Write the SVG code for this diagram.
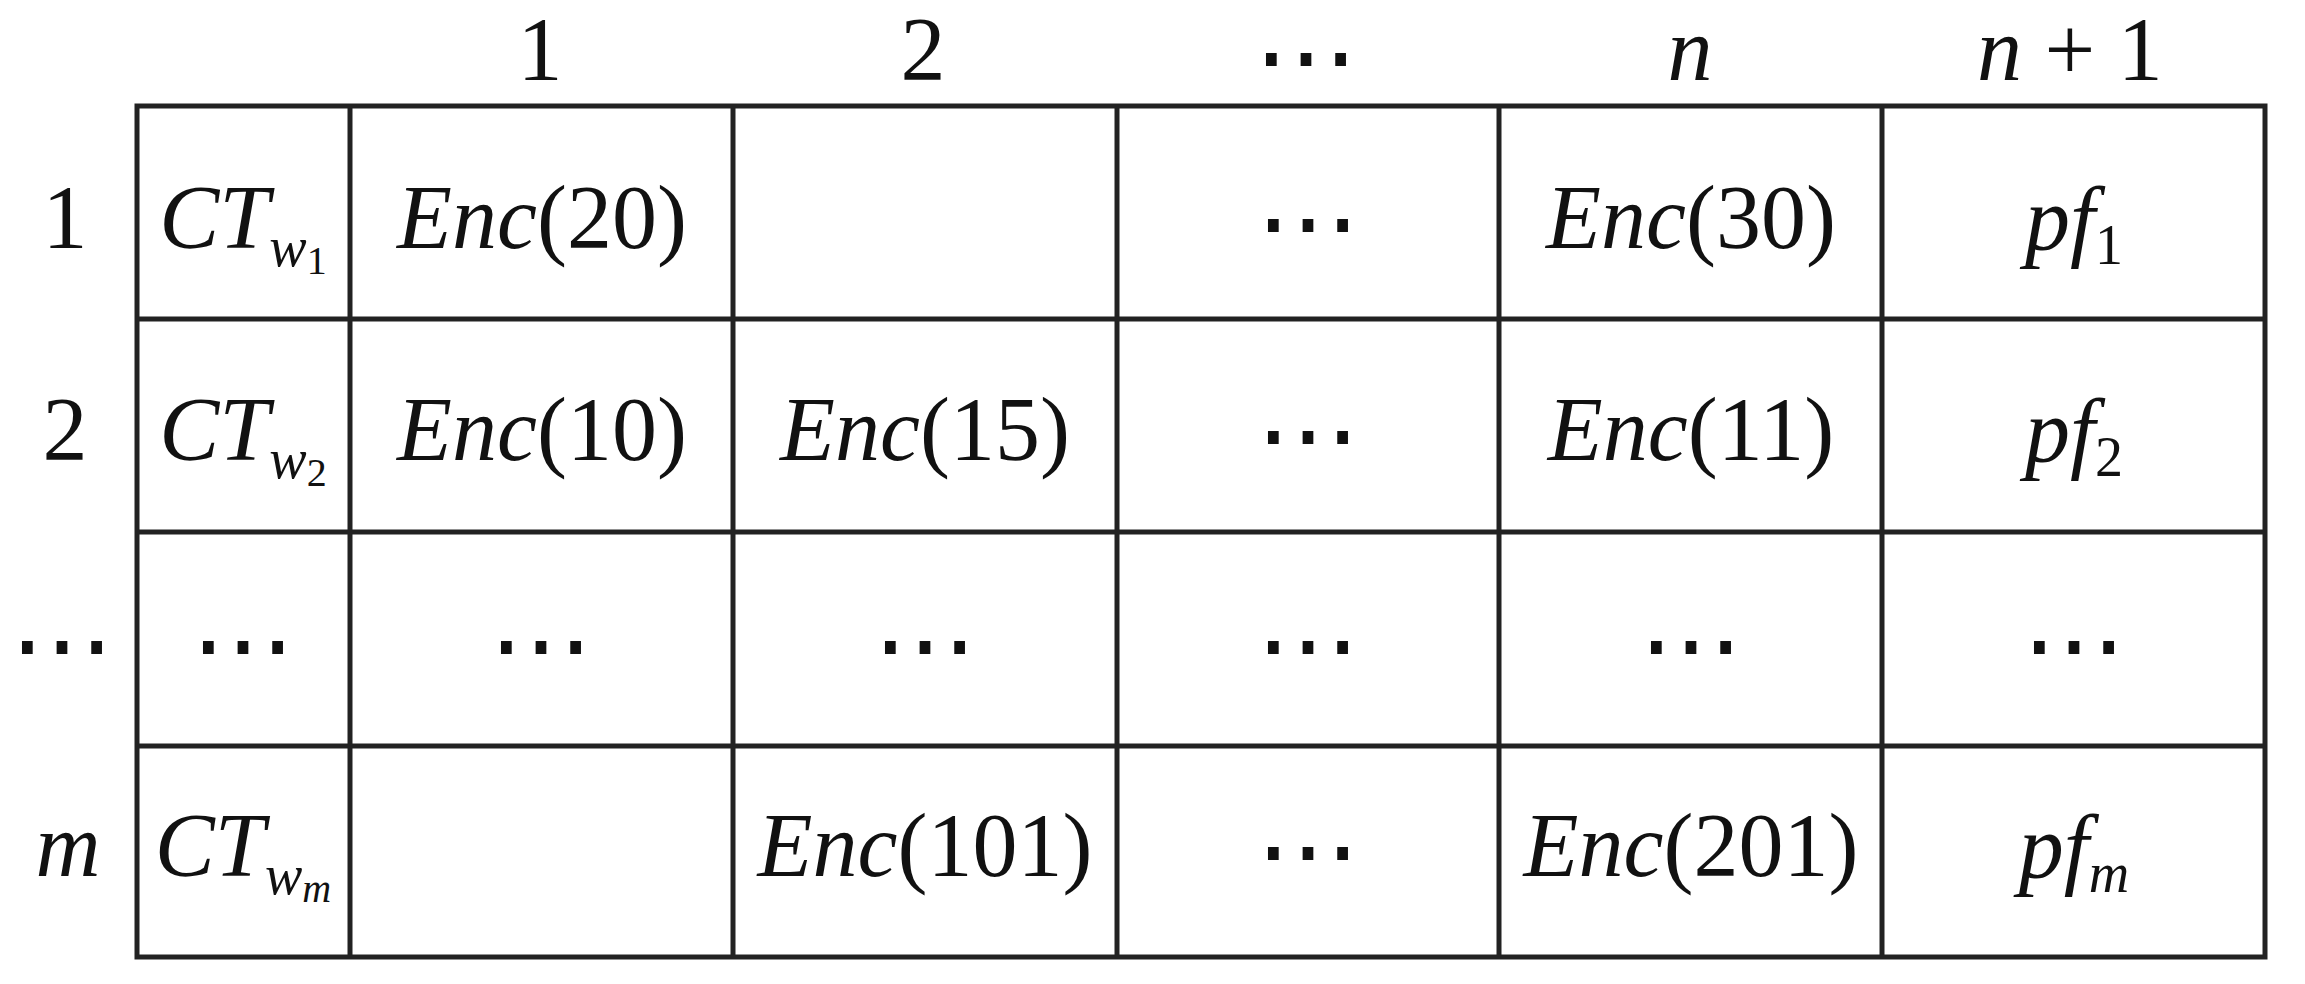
<svg xmlns="http://www.w3.org/2000/svg" width="2305" height="984" viewBox="0 0 2305 984">
<style>
text{font-family:"Liberation Serif","DejaVu Serif",serif;font-size:90px;fill:#111;text-anchor:middle}
.i{font-style:italic}
.s{font-size:56px}
.d{font-family:"DejaVu Serif",serif;font-size:104px}
.g{stroke:#222;stroke-width:5;fill:none}
</style>
<rect width="2305" height="984" fill="#fff"/>
<g id="grid" class="g">
<rect x="137" y="106" width="2128" height="851"/>
<path d="M350 106V957M733 106V957M1117 106V957M1499 106V957M1882 106V957M137 319H2265M137 532H2265M137 746H2265"/>
</g>
<g id="colheaders">
<text x="540" y="80">1</text><text x="923" y="80">2</text><text class="d" x="1306" y="92">⋯</text>
<text class="i" x="1690" y="80">n</text><text x="2070" y="80"><tspan class="i">n</tspan> + 1</text>
</g>
<g id="rowheaders">
<text x="65" y="248">1</text><text x="65" y="460">2</text><text class="d" x="62" y="680">⋯</text><text class="i" x="68" y="876">m</text>
</g>
<g id="row1">
<text x="243" y="248"><tspan class="i">CT</tspan><tspan class="i s" dy="18">w</tspan><tspan style="font-size:40px" dy="8">1</tspan></text>
<text x="542" y="248"><tspan class="i">Enc</tspan>(20)</text>
<text class="d" x="1308" y="258">⋯</text>
<text x="1691" y="248"><tspan class="i">Enc</tspan>(30)</text>
<text x="2074" y="250"><tspan class="i">pf</tspan><tspan dy="14" style="font-size:56px">1</tspan></text>
</g>
<g id="row2">
<text x="243" y="460"><tspan class="i">CT</tspan><tspan class="i s" dy="18">w</tspan><tspan style="font-size:40px" dy="8">2</tspan></text>
<text x="542" y="460"><tspan class="i">Enc</tspan>(10)</text>
<text x="925" y="460"><tspan class="i">Enc</tspan>(15)</text>
<text class="d" x="1308" y="470">⋯</text>
<text x="1691" y="460"><tspan class="i">Enc</tspan>(11)</text>
<text x="2074" y="462"><tspan class="i">pf</tspan><tspan dy="14" style="font-size:56px">2</tspan></text>
</g>
<g id="row3">
<text class="d" x="243" y="680">⋯</text><text class="d" x="541" y="680">⋯</text><text class="d" x="925" y="680">⋯</text>
<text class="d" x="1308" y="680">⋯</text><text class="d" x="1691" y="680">⋯</text><text class="d" x="2074" y="680">⋯</text>
</g>
<g id="row4">
<text x="243" y="876"><tspan class="i">CT</tspan><tspan class="i s" dy="18">w</tspan><tspan class="i" style="font-size:40px" dy="8">m</tspan></text>
<text x="925" y="876"><tspan class="i">Enc</tspan>(101)</text>
<text class="d" x="1308" y="886">⋯</text>
<text x="1691" y="876"><tspan class="i">Enc</tspan>(201)</text>
<text x="2074" y="878"><tspan class="i">pf</tspan><tspan class="i" dy="14" style="font-size:56px">m</tspan></text>
</g>
</svg>
